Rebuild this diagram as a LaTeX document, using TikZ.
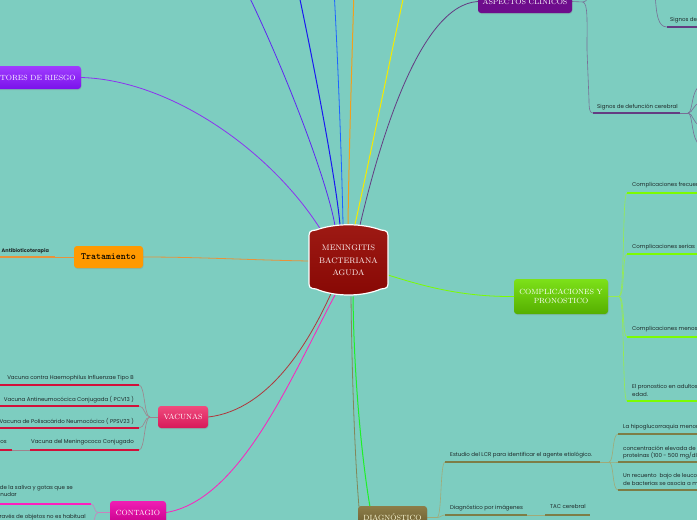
\documentclass[tikz,border=0pt]{standalone}
\usepackage{fontspec}
\newfontfamily\lblfont{Poppins}
\usetikzlibrary{shadows}
\definecolor{bg}{RGB}{125,205,192}
\definecolor{txt}{RGB}{30,42,42}
\definecolor{cRed}{RGB}{135,8,4}
\definecolor{cRedTop}{RGB}{158,26,20}
\definecolor{frA}{RGB}{160,60,255}
\definecolor{frB}{RGB}{122,18,235}
\definecolor{frLine}{RGB}{140,50,240}
\definecolor{violetL}{RGB}{95,40,240}
\definecolor{blueA}{RGB}{25,25,240}
\definecolor{blueB}{RGB}{30,100,255}
\definecolor{orangeL}{RGB}{240,160,30}
\definecolor{yellowL}{RGB}{245,235,0}
\definecolor{aspC}{RGB}{110,12,140}
\definecolor{aspLine}{RGB}{100,60,130}
\definecolor{aspThin}{RGB}{120,110,150}
\definecolor{tratC}{RGB}{255,153,0}
\definecolor{tratLine}{RGB}{232,146,58}
\definecolor{compA}{RGB}{125,225,25}
\definecolor{compB}{RGB}{85,175,0}
\definecolor{compLine}{RGB}{124,252,0}
\definecolor{compThin}{RGB}{150,235,80}
\definecolor{vacA}{RGB}{240,75,125}
\definecolor{vacB}{RGB}{215,25,90}
\definecolor{vacLine}{RGB}{175,55,60}
\definecolor{vacThin}{RGB}{160,130,140}
\definecolor{vacU}{RGB}{210,16,58}
\definecolor{conA}{RGB}{240,30,180}
\definecolor{conB}{RGB}{200,0,140}
\definecolor{conLine}{RGB}{255,30,190}
\definecolor{conThin}{RGB}{200,130,190}
\definecolor{diaA}{RGB}{140,125,72}
\definecolor{diaB}{RGB}{105,90,45}
\definecolor{diaLine}{RGB}{130,135,90}
\definecolor{diaThin}{RGB}{160,170,120}
\definecolor{diaU}{RGB}{125,125,70}
\definecolor{greenL}{RGB}{30,240,40}
\pgfdeclarelayer{bglayer}
\pgfdeclarelayer{edges}
\pgfsetlayers{bglayer,edges,main}
\tikzset{
  mbox/.style={rounded corners=3pt, inner sep=1pt, align=center, text=white,
    font=\fontsize{7.5}{9.5}\selectfont,
    drop shadow={opacity=0.25, shadow xshift=0.5pt, shadow yshift=-1pt}},
  lbl/.style={font=\lblfont\fontsize{5.5}{7.2}\selectfont, text=txt, inner sep=0pt, align=left},
  ul/.style={line width=2pt},
  conn/.style={line width=0.8pt},
  twig/.style={line width=0.6pt},
}
\begin{document}
\begin{tikzpicture}[x=1pt,y=-1pt]
\useasboundingbox (0,0) rectangle (697,520);
\begin{pgfonlayer}{bglayer}
\fill[bg] (-5,-5) rectangle (702,525);
\end{pgfonlayer}
\clip (0,0) rectangle (697,520);

% ---------- central node ----------
\path[draw=white, line width=1.2pt, top color=cRedTop, bottom color=cRed]
  (309,240) -- (309,280) .. controls (309,288) .. (316,289)
  .. controls (335,297) and (362,297) .. (381,289)
  .. controls (388,288) .. (388,280) -- (388,240)
  .. controls (388,231) .. (381,230)
  .. controls (362,223) and (335,223) .. (316,230)
  .. controls (309,231) .. (309,240) -- cycle;
\node[font=\fontsize{8}{12.5}\selectfont, text=white!88!pink, align=center] (c) at (348.5,260.5) {MENINGITIS\\BACTERIANA\\AGUDA};

\coordinate (cFR) at (320,228.5);
\coordinate (cV) at (335,225.5);
\coordinate (cB1) at (340,225);
\coordinate (cB2) at (343,224.5);
\coordinate (cO) at (348,224.5);
\coordinate (cY) at (355,224.5);
\coordinate (cA) at (360,225);
\coordinate (cT) at (309,261);
\coordinate (cK) at (388,275);
\coordinate (cVac) at (331,293.5);
\coordinate (cCon) at (335,295);
\coordinate (cDo) at (351,296.5);
\coordinate (cDg) at (353,296.5);

% ---------- main boxes ----------
\node[mbox, top color=frA, bottom color=frB, minimum width=102pt, minimum height=23pt] (fr) at (30,77.5) {FACTORES DE RIESGO};
\node[mbox, fill=aspC, minimum width=94pt, minimum height=23pt] (asp) at (525,1.5) {ASPECTOS CLINICOS};
\node[mbox, fill=tratC, text=black, font=\fontsize{9.5}{11}\ttfamily\bfseries, minimum width=69pt, minimum height=22pt] (trat) at (108.5,257) {Tratamiento};
\node[mbox, top color=compA, bottom color=compB, minimum width=94pt, minimum height=35pt] (comp) at (561,296.5) {COMPLICACIONES Y\\PRONOSTICO};
\node[mbox, top color=vacA, bottom color=vacB, minimum width=50pt, minimum height=22pt] (vac) at (183,417) {VACUNAS};
\node[mbox, top color=conA, bottom color=conB, minimum width=56pt, minimum height=23pt] (con) at (138,512.5) {CONTAGIO};
\node[mbox, top color=diaA, bottom color=diaB, text=white!85!yellow, minimum width=69pt, minimum height=23pt] (dia) at (392.5,517.5) {DIAGNÓSTICO};

% ---------- free ends at the top ----------
\coordinate (t1) at (246,-10);
\coordinate (t2) at (298,-10);
\coordinate (t3) at (334,-10);
\coordinate (t4) at (354,-10);
\coordinate (t5) at (405,-10);

\begin{pgfonlayer}{edges}
% from centre
\draw[conn, frLine] (fr.east) .. controls (170,80) and (270,150) .. (cFR);
\draw[conn, violetL] (cV) .. controls (327,180) and (285,70) .. (t1);
\draw[conn, blueA, line width=1pt] (cB1) .. controls (336,180) and (315,70) .. (t2);
\draw[conn, blueB] (cB2) .. controls (342,170) and (338,60) .. (t3);
\draw[conn, orangeL, line width=1pt] (cO) .. controls (349,150) and (352,60) .. (t4);
\draw[conn, yellowL, line width=1pt] (cY) .. controls (365,180) and (390,60) .. (t5);
\draw[conn, aspLine] (cA) .. controls (380,140) and (420,5) .. (asp.west);
\draw[conn, tratLine] (cT) .. controls (250,260) and (200,257) .. (trat.east);
\draw[conn, compLine] (cK) .. controls (420,285) and (460,297) .. (comp.west);
\draw[conn, vacLine] (cVac) .. controls (310,340) and (270,410) .. (vac.east);
\draw[conn, conLine] (cCon) .. controls (290,380) and (240,500) .. (con.east);
\draw[conn, diaLine] (cDo) .. controls (352,380) and (355,460) .. (359,507);
\draw[conn, greenL, line width=1pt] (cDg) .. controls (354,380) and (362,460) .. (370,507);

% ---------- ASPECTOS CLINICOS ----------
\coordinate (a0) at (583,2);
\coordinate (aUp) at (590,-12);
\coordinate (sd0) at (593,113);
\coordinate (sd1) at (680,113);
\coordinate (sdj) at (688,113);
\coordinate (si0) at (655,-10);
\coordinate (si1) at (667,27);
\draw[twig, aspThin] (asp.east) -- (a0);
\draw[twig, aspThin] (a0) .. controls (588,2) and (588,-5) .. (aUp);
\draw[twig, aspThin] (a0) .. controls (588,4) and (587,20) .. (587,50) -- (589,100) .. controls (589,110) and (590,113) .. (sd0);
\draw[ul, aspLine] (sd0) -- (sd1);
\draw[twig, aspThin] (sd1) -- (sdj);
\draw[twig, aspThin] (sdj) .. controls (693,113) and (691,90) .. (700,86);
\draw[twig, aspThin] (sdj) .. controls (693,113) and (693,104) .. (700,103);
\draw[twig, aspThin] (sdj) .. controls (693,113) and (693,124) .. (700,125);
\draw[twig, aspThin] (sdj) .. controls (693,113) and (691,140) .. (700,145);
\draw[twig, aspThin] (si0) .. controls (656,15) and (658,27) .. (si1);
\draw[ul, aspLine] (si1) -- (705,27);
\node[lbl, anchor=north west] (sdl) at (597,103.5) {Signos de defunción cerebral};
\node[lbl, anchor=north west] (sil) at (670,16.5) {Signos de irritación meníngea};

% ---------- COMPLICACIONES ----------
\coordinate (k0) at (619,296.5);
\draw[twig, compThin] (comp.east) -- (k0);
\foreach \yy/\nm in {193/k1,254/k2,337/k3,401/k4}{
  \coordinate (\nm) at (627,\yy);
  \draw[twig, compThin] (k0) .. controls (625,296.5) and (622,\yy) .. (\nm);
  \draw[ul, compLine] (\nm) -- (705,\yy);
}
\node[lbl, anchor=north west] (kl1) at (632,182.5) {Complicaciones frecuentes};
\node[lbl, anchor=north west] (kl2) at (632,244.5) {Complicaciones serias};
\node[lbl, anchor=north west] (kl3) at (632,326.5) {Complicaciones menos frecuentes};
\node[lbl, anchor=north west] (kl4) at (632,384.5) {El pronostico en adultos empeora con la\\edad.};

% ---------- DIAGNOSTICO ----------
\coordinate (d0) at (437,517.5);
\coordinate (e0) at (445,462);
\coordinate (e1) at (600,462);
\coordinate (d1) at (609,462);
\coordinate (i0) at (445,515);
\coordinate (i1) at (527,515);
\coordinate (tc0) at (545,515);
\coordinate (tc1) at (590,515);
\draw[twig, diaThin] (dia.east) -- (d0);
\draw[twig, diaThin] (d0) .. controls (442,517.5) and (440,462) .. (e0);
\draw[twig, diaThin] (d0) .. controls (441,517.5) and (441,515) .. (i0);
\draw[ul, diaU] (e0) -- (e1);
\draw[ul, diaU] (i0) -- (i1);
\draw[twig, diaThin] (i1) -- (tc0);
\draw[ul, diaU] (tc0) -- (tc1);
\draw[twig, diaThin] (e1) -- (d1);
\foreach \yy/\nm in {434/f1,462/f2,490/f3}{
  \coordinate (\nm) at (618,\yy);
  \draw[twig, diaThin] (d1) .. controls (614,462) and (612,\yy) .. (\nm);
  \draw[ul, diaU] (\nm) -- (705,\yy);
}
\node[lbl, anchor=north west] (el) at (450,451.5) {Estudio del LCR para identificar el agente etiológico.};
\node[lbl, anchor=north west] (il) at (450,504.5) {Diagnóstico por imágenes};
\node[lbl, anchor=north west] (tl) at (550,504.5) {TAC cerebral};
\node[lbl, anchor=north west] (fl1) at (623,423.5) {La hipoglucorraquia menor de 40 mg/dl};
\node[lbl, anchor=north west] (fl2) at (623,445.5) {concentración elevada de\\proteínas (100 - 500 mg/dl)};
\node[lbl, anchor=north west] (fl3) at (623,473.5) {Un recuento\ \ bajo de leucocitos y alto\\de bacterias se asocia a mal pronóstico};

% ---------- VACUNAS ----------
\coordinate (v0) at (150,417);
\draw[twig, vacThin] (vac.west) -- (v0);
\foreach \yy/\nm/\xs in {385/v1/-5,406/v2/-5,428/v3/-5,450/v4/30}{
  \coordinate (\nm) at (139,\yy);
  \draw[twig, vacThin] (v0) .. controls (144,417) and (145,\yy) .. (\nm);
  \draw[ul, vacU] (\nm) -- (\xs,\yy);
}
\coordinate (v5) at (12,450);
\draw[twig, vacThin] (30,450) -- (v5);
\draw[ul, vacU] (v5) -- (-5,450);
\node[lbl, anchor=north east, align=right] (vl1) at (134,375.5) {Vacuna contra Haemophilus Influenzae Tipo B};
\node[lbl, anchor=north east, align=right] (vl2) at (134,396.5) {Vacuna Antineumocócica Conjugada ( PCV13 )};
\node[lbl, anchor=north east, align=right] (vl3) at (134,418.5) {Vacuna de Polisacárido Neumocócico ( PPSV23 )};
\node[lbl, anchor=north east, align=right] (vl4) at (134,439.5) {Vacuna del Meningococo Conjugado};
\node[lbl, anchor=north east, align=right] (vl5) at (7,439.5) {Adolescentes y adultos};

% ---------- CONTAGIO ----------
\coordinate (g0) at (98,512.5);
\coordinate (g1) at (91,504);
\coordinate (g2) at (91,525);
\draw[twig, conThin] (con.west) -- (g0);
\draw[twig, conThin] (g0) .. controls (94,512.5) and (95,504) .. (g1);
\draw[twig, conThin] (g0) .. controls (94,512.5) and (95,525) .. (g2);
\draw[ul, conLine] (g1) -- (-5,504);
\node[lbl, anchor=north east, align=right] (gl1) at (73,484.5) {A través de la saliva y gotas que se};
\node[lbl, anchor=north east, align=right] (gl2) at (17,492.5) {al toser o estornudar};
\node[lbl, anchor=north east, align=right] (gl3) at (86,513.5) {El contagio a través de objetos no es habitual};

% ---------- Tratamiento ----------
\coordinate (tr0) at (55,257);
\draw[twig, tratLine] (trat.west) -- (tr0);
\draw[ul, tratLine] (tr0) -- (-5,257);
\end{pgfonlayer}
\node[lbl, anchor=north west, font=\lblfont\bfseries\fontsize{5}{7}\selectfont] (abl) at (1.5,248) {Antibioticoterapia};
\end{tikzpicture}
\end{document}
